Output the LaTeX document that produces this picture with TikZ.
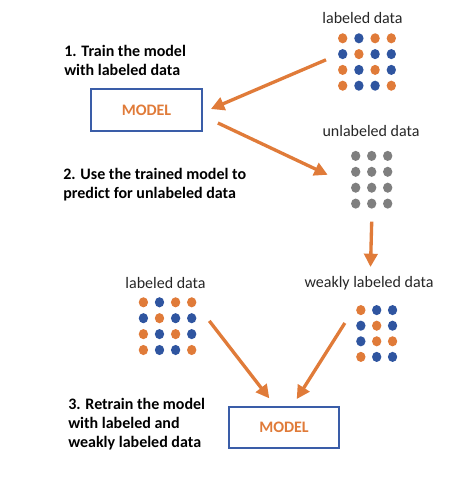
\documentclass[tikz,border=0pt]{standalone}
\usepackage{fontspec}
\setmainfont{Carlito}
\usetikzlibrary{arrows.meta,shapes.geometric,positioning}
\definecolor{dotorange}{HTML}{E07B39}
\definecolor{dotblue}{HTML}{2F55A0}
\definecolor{dotgray}{HTML}{7F7F7F}
\definecolor{boxblue}{HTML}{3A5DA8}
\definecolor{textgray}{HTML}{262626}

\begin{document}
\begin{tikzpicture}[x=0.75pt,y=-0.75pt,
					modelnode/.style={rectangle,
					draw=boxblue,
					line width=1.6pt,
					minimum width=83pt,
					minimum height=31pt,
					text=dotorange,
					font=\fontsize{12}{14}\selectfont\bfseries},
					datalabel/.style={text=textgray,
					inner sep=0pt,
					font=\fontsize{12}{14}\selectfont},
					steptext/.style={align=left,
					anchor=west,
					inner sep=0pt,
					text=black,
					font=\fontsize{12}{14.5}\selectfont\bfseries},
					dotnode/.style={ellipse,
					inner sep=0pt,
					minimum width=7pt,
					minimum height=7.6pt,
					fill=#1},
					bigarrow/.style={-{Triangle[length=10pt,width=10pt]},
					line width=2.5pt,
					draw=dotorange}
					]

\useasboundingbox (0,0) rectangle (474,485);

%labels of the data sets
\node[datalabel] (toplabel) at (362.5,18) {labeled data};
\node[datalabel] (unlabel) at (371,131) {unlabeled data};
\node[datalabel] (leftlabel) at (165.5,283) {labeled data};
\node[datalabel] (weaklabel) at (369,283) {weakly labeled data};

%labeled data, top
\foreach \row [count=\r] in {{dotorange,dotblue,dotorange,dotorange},
	{dotblue,dotorange,dotblue,dotblue},
	{dotorange,dotblue,dotorange,dotblue},
	{dotorange,dotblue,dotblue,dotorange}}
	\foreach \col [count=\k] in \row
		\node[dotnode=\col] (top-\r-\k) at (326.5+16.2*\k,22.5+15.8*\r) {};

%unlabeled data
\foreach \r in {1,...,4}
	\foreach \k in {1,2,3}
		\node[dotnode=dotgray] (un-\r-\k) at (339.7+16*\k,140+15.9*\r) {};

%labeled data, left
\foreach \row [count=\r] in {{dotorange,dotblue,dotorange,dotorange},
	{dotblue,dotorange,dotblue,dotblue},
	{dotorange,dotblue,dotorange,dotblue},
	{dotorange,dotblue,dotblue,dotorange}}
	\foreach \col [count=\k] in \row
		\node[dotnode=\col] (left-\r-\k) at (127.3+16.1*\k,286.4+15.9*\r) {};

%weakly labeled data
\foreach \row [count=\r] in {{dotorange,dotblue,dotblue},
	{dotblue,dotorange,dotblue},
	{dotblue,dotorange,dotorange},
	{dotorange,dotblue,dotblue}}
	\foreach \col [count=\k] in \row
		\node[dotnode=\col] (weak-\r-\k) at (345+15.85*\k,294.5+15.6*\r) {};

%MODEL nodes
\node[modelnode] (model1) at (146.5,110) {MODEL};
\node[modelnode] (model2) at (284,427.5) {MODEL};

%step texts
\node[steptext] (step1) at (64,60.4) {1. Train the model\\with labeled data};
\node[steptext] (step2) at (63,184.5) {2. Use the trained model to\\predict for unlabeled data};
\node[steptext] (step3) at (68,424) {3. Retrain the model\\with labeled and\\weakly labeled data};

%arrows
\draw[bigarrow] ([shift={(-16.7,5.7)}]top-2-1.center) -- ([shift={(8,-1)}]model1.east);
\draw[bigarrow] ([shift={(15,13)}]model1.east) -- ([shift={(-28,3)}]un-2-1.center);
\draw[bigarrow] ([shift={(0,18)}]un-4-2.center) -- ([shift={(1.5,-16)}]weaklabel.center);
\draw[bigarrow] ([shift={(17.6,2.7)}]left-2-4.center) -- ([shift={(-14.7,-7.4)}]model2.north);
\draw[bigarrow] ([shift={(-16,-2.7)}]weak-2-1.center) -- ([shift={(12.7,-6.7)}]model2.north);

\end{tikzpicture}
\end{document}
